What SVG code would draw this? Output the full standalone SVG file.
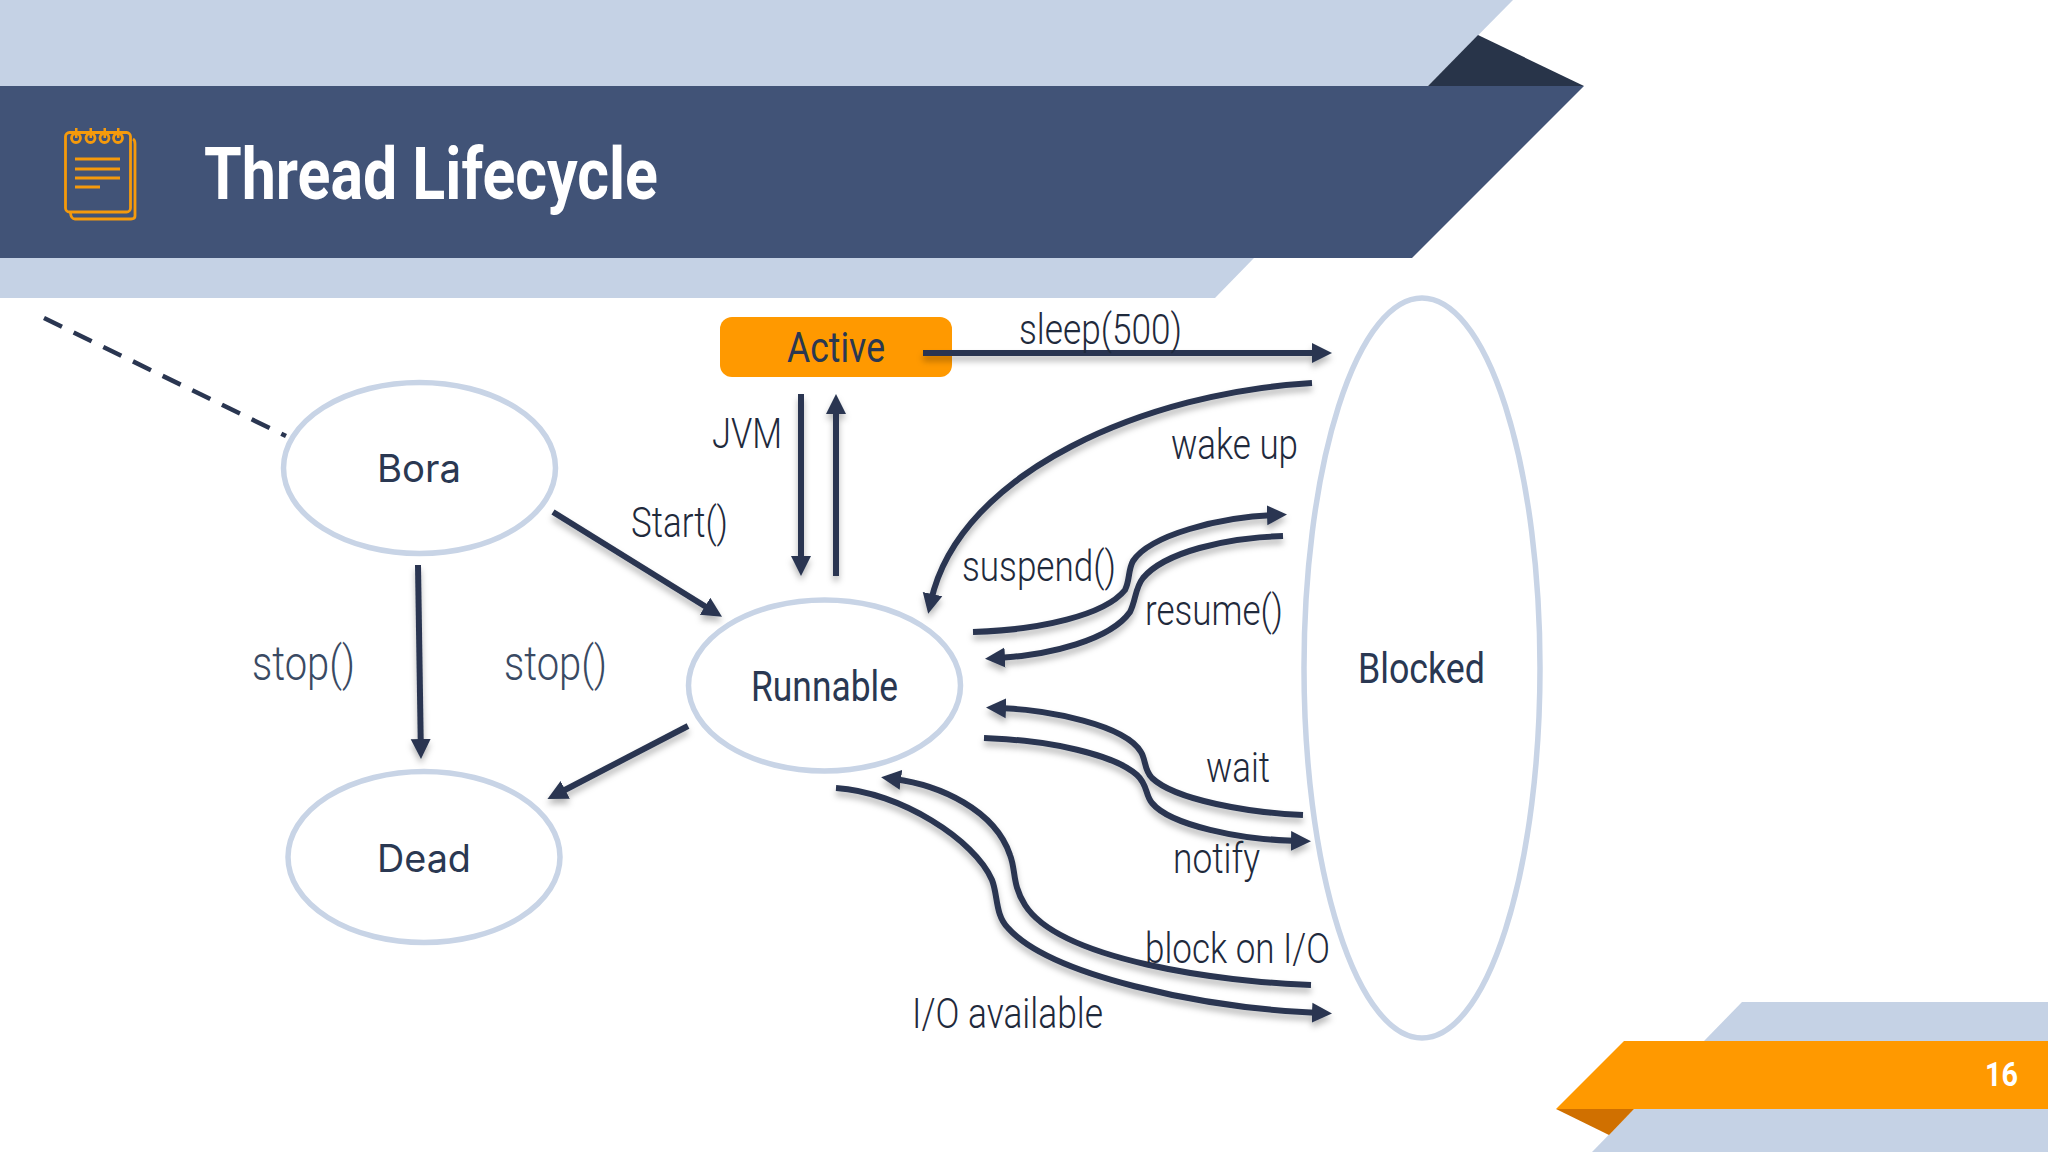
<svg xmlns="http://www.w3.org/2000/svg" width="2048" height="1152" viewBox="0 0 2048 1152">
<defs>
<style>
text{font-family:Roboto,"Liberation Sans",sans-serif}
.lbl{font-size:43px;font-weight:300;fill:#1f2a3c}
.stp{font-size:48px;font-weight:300;fill:#3a4a63}
.nm{font-size:42px;font-weight:400;fill:#2a3852}
.in{font-family:Inter,Roboto,sans-serif;font-size:38px;font-weight:400;fill:#2a3852}
.ell{fill:#fff;stroke:#c8d4e6;stroke-width:5.5}
.c{fill:none;stroke:#2a3651;stroke-width:6}
.a{marker-end:url(#ah)}
.ic{fill:none;stroke:#f59a0c;stroke-width:2.8}
</style>
<marker id="ah" markerUnits="userSpaceOnUse" markerWidth="22" markerHeight="22" refX="7" refY="11" orient="auto">
<path d="M0 1 L20 11 L0 21 Z" fill="#2a3651"/>
</marker>
<filter id="sh" x="-10%" y="-10%" width="120%" height="130%" filterUnits="objectBoundingBox">
<feDropShadow dx="0" dy="5" stdDeviation="3" flood-color="#000" flood-opacity="0.28"/>
</filter>
</defs>
<rect width="2048" height="1152" fill="#fff"/>
<g id="banner">
<polygon points="0,0 1513,0 1428,86 0,86" fill="#c5d2e5"/>
<polygon points="0,258 1254,258 1215,298 0,298" fill="#c5d2e5"/>
<polygon points="1428,86 1478,35 1584,86" fill="#283449"/>
<polygon points="0,86 1584,86 1412,258 0,258" fill="#415377"/>
<g id="icon">
<rect class="ic" x="65.500" y="132.500" width="65" height="79.500" rx="4"/>
<path class="ic" d="M133 139 Q135 140 135 144 V216 Q135 219 131 219 H75 Q71 219 70.500 213"/>
<path class="ic" d="M75 159H120M75 169H120M75 178H120M75 187H100"/>
<g fill="#f59a0c"><rect x="75" y="128" width="2.500" height="10"/><rect x="89.500" y="128" width="2.500" height="10"/><rect x="103.500" y="128" width="2.500" height="10"/><rect x="117" y="128" width="2.500" height="10"/></g>
<g class="ic"><circle cx="76" cy="138" r="4.500"/><circle cx="90.500" cy="138" r="4.500"/><circle cx="104.500" cy="138" r="4.500"/><circle cx="118" cy="138" r="4.500"/></g>
</g>
<text x="204" y="199" font-size="73" font-weight="700" fill="#fff" textLength="454" lengthAdjust="spacingAndGlyphs">Thread Lifecycle</text>
</g>
<g id="footer">
<polygon points="1742,1002 2048,1002 2048,1041 1704,1041" fill="#c5d2e5"/>
<polygon points="1634,1109 2048,1109 2048,1152 1592,1152" fill="#c5d2e5"/>
<polygon points="1556,1109 1634,1109 1609,1135" fill="#d07000"/>
<polygon points="1624,1041 2048,1041 2048,1109 1556,1109" fill="#ff9900"/>
<text x="1985" y="1086" font-size="34" font-weight="700" fill="#fff" textLength="33" lengthAdjust="spacingAndGlyphs">16</text>
</g>
<g id="node-bora"><ellipse class="ell" cx="419.500" cy="468" rx="136" ry="85.500"/><text class="in" x="377" y="482" textLength="84" lengthAdjust="spacingAndGlyphs">Bora</text></g>
<g id="node-dead"><ellipse class="ell" cx="424" cy="857" rx="136" ry="85.500"/><text class="in" x="377" y="872" textLength="94" lengthAdjust="spacingAndGlyphs">Dead</text></g>
<g id="node-runnable"><ellipse class="ell" cx="824.500" cy="685.500" rx="136" ry="85.500"/><text class="nm" x="751" y="701" textLength="147" lengthAdjust="spacingAndGlyphs">Runnable</text></g>
<g id="node-blocked"><ellipse class="ell" cx="1422" cy="668" rx="118" ry="370"/><text class="nm" x="1358" y="683" textLength="127" lengthAdjust="spacingAndGlyphs">Blocked</text></g>
<g id="node-active"><rect x="720" y="317" width="232" height="60" rx="12" fill="#ff9900"/><text class="nm" x="787" y="362" textLength="98" lengthAdjust="spacingAndGlyphs">Active</text></g>
<g id="connectors">
<path d="M44 318 L286 436" fill="none" stroke="#2a3651" stroke-width="4.500" stroke-dasharray="20 13"/>
<g filter="url(#sh)">
<path class="c a" d="M553 512 L711 610"/>
<path class="c a" d="M418 565 L420.800 746"/>
<path class="c a" d="M688 726 L559 793"/>
<path class="c a" d="M801 394 V563"/>
<path class="c a" d="M836 576 V407"/>
<path class="c a" d="M923 353 H1319"/>
<path class="c a" d="M1312 383 C1150 392 960 470 931 601"/>
<path class="c a" d="M973 632 C1040 630 1105 615 1125 590 C1130 580 1128 570 1133 561 C1150 535 1220 517 1274 515"/>
<path class="c a" d="M1283 536 C1225 538 1165 552 1143 578 C1135 588 1136 600 1130 612 C1110 640 1050 655 998 658"/>
<path class="c a" d="M1303 815 C1250 813 1175 800 1152 778 C1144 770 1146 760 1141 752 C1125 725 1050 710 999 708"/>
<path class="c a" d="M984 738 C1050 740 1115 755 1137 775 C1148 785 1145 795 1152 803 C1170 825 1240 840 1298 841"/>
<path class="c a" d="M1311 985 C1220 982 1060 960 1025 905 C1012 885 1016 870 1010 855 C995 810 940 785 894 779"/>
<path class="c a" d="M836 788 C900 792 975 840 992 880 C998 895 995 915 1008 928 C1050 975 1200 1008 1319 1013"/>
</g>
</g>
<g id="labels">
<text class="lbl" x="1019" y="344" textLength="163" lengthAdjust="spacingAndGlyphs">sleep(500)</text>
<text class="lbl" x="712" y="448" textLength="70" lengthAdjust="spacingAndGlyphs">JVM</text>
<text class="lbl" x="631" y="537" textLength="97" lengthAdjust="spacingAndGlyphs">Start()</text>
<text class="lbl" x="1171" y="459" textLength="127" lengthAdjust="spacingAndGlyphs">wake up</text>
<text class="lbl" x="962" y="581" textLength="154" lengthAdjust="spacingAndGlyphs">suspend()</text>
<text class="lbl" x="1145" y="625" textLength="138" lengthAdjust="spacingAndGlyphs">resume()</text>
<text class="lbl" x="1206" y="782" textLength="64" lengthAdjust="spacingAndGlyphs">wait</text>
<text class="lbl" x="1173" y="873" textLength="87" lengthAdjust="spacingAndGlyphs">notify</text>
<text class="lbl" x="1145" y="963" textLength="185" lengthAdjust="spacingAndGlyphs">block on I/O</text>
<text class="lbl" x="912" y="1028" textLength="191" lengthAdjust="spacingAndGlyphs">I/O available</text>
<text class="stp" x="252" y="680" textLength="103" lengthAdjust="spacingAndGlyphs">stop()</text>
<text class="stp" x="504" y="680" textLength="103" lengthAdjust="spacingAndGlyphs">stop()</text>
</g>
</svg>
